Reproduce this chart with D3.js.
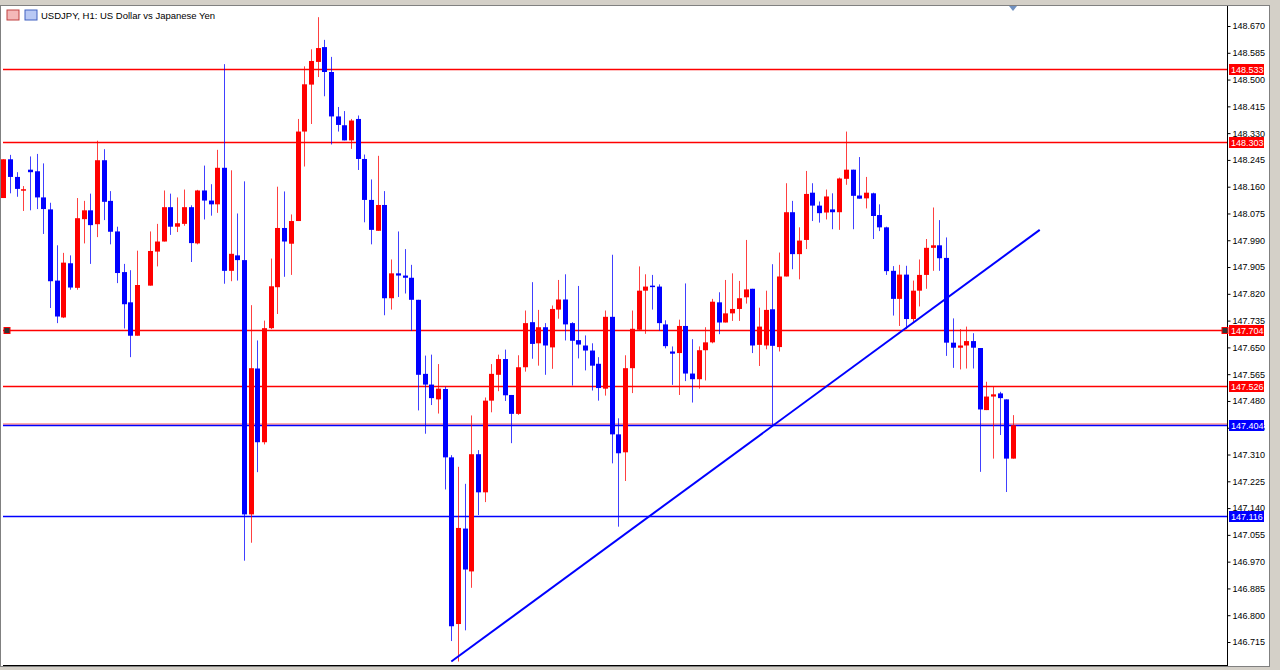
<!DOCTYPE html>
<html><head><meta charset="utf-8">
<script src="https://cdn.jsdelivr.net/npm/d3@7"></script>
<style>body{margin:0;background:#fff;overflow:hidden}svg{display:block}</style>
</head><body><svg id="c" width="1280" height="670"></svg>
<script>
// OHLC per hourly bar (null = empty slot)
const opens = [148.124,148.247,148.191,148.148,148.214,148.209,148.126,148.088,147.862,147.745,147.917,147.839,148.057,148.085,148.041,148.244,148.115,148.018,147.889,147.793,147.687,null,
147.846,147.954,147.986,148.095,148.033,148.042,148.095,147.980,148.148,148.116,148.104,148.220,147.893,147.942,147.927,147.120,147.583,147.349,147.711,147.841,148.029,147.979,148.051,148.335,148.484,148.556,148.603,148.524,148.383,148.355,148.307,148.375,148.248,148.118,148.020,148.102,147.806,147.885,147.878,147.871,147.801,147.566,147.532,147.485,147.518,147.301,146.772,147.075,146.939,147.311,147.190,147.481,147.563,147.613,147.499,147.439,147.587,147.730,147.663,147.714,147.650,147.770,147.802,147.727,147.673,147.656,147.640,147.598,147.519,147.747,147.374,147.317,147.584,147.706,147.830,147.846,147.843,147.723,147.637,147.632,147.718,147.567,147.549,147.641,147.666,147.793,147.729,147.758,147.772,147.809,147.836,147.658,147.656,147.771,147.651,147.875,148.079,147.946,147.991,148.141,148.100,148.078,148.088,148.079,148.185,148.214,148.132,148.123,148.139,148.070,148.031,147.893,147.804,147.881,147.740,147.830,147.880,147.966,147.974,147.934,147.665,147.649,147.656,147.670,147.648,147.451,147.494,147.504,147.485,147.297];
const highs = [148.247,148.261,148.206,148.162,148.256,148.264,148.234,148.109,147.974,147.950,147.942,148.124,148.115,148.138,148.306,148.279,148.146,148.033,147.915,147.895,147.957,null,
148.018,148.042,148.148,148.138,148.126,148.151,148.101,148.150,148.227,148.168,148.277,148.549,148.212,148.075,148.177,147.784,147.672,147.735,147.932,148.160,148.145,148.072,148.375,148.542,148.596,148.698,148.626,148.572,148.413,148.400,148.375,148.386,148.262,148.183,148.258,148.146,147.929,148.018,147.962,147.912,147.801,147.624,147.627,147.597,147.525,147.308,147.271,147.217,147.434,147.324,147.491,147.597,147.627,147.643,147.499,147.625,147.767,147.857,147.769,147.727,147.783,147.864,147.882,147.730,147.845,147.688,147.663,147.619,147.767,147.944,147.425,147.625,147.767,147.907,147.882,147.880,147.850,147.736,147.653,147.738,147.853,147.676,147.653,147.714,147.804,147.825,147.864,147.885,147.861,147.991,147.836,147.776,147.830,147.914,147.951,148.171,148.115,148.031,148.210,148.171,148.113,148.151,148.139,148.189,148.335,148.214,148.254,148.191,148.141,148.104,148.033,147.908,147.912,147.909,147.862,147.929,147.994,148.094,148.054,147.999,147.742,147.708,147.716,147.695,147.648,147.541,147.525,147.509,147.485,147.435];
const lows = [148.124,148.139,148.128,148.083,148.085,148.089,148.010,147.775,147.727,147.743,147.833,147.833,147.980,147.915,148.000,148.054,147.977,147.854,147.710,147.619,147.687,null,
147.846,147.907,147.986,148.007,148.016,148.036,147.921,147.977,148.056,148.068,148.077,147.852,147.860,147.862,146.973,147.030,147.254,147.342,147.708,147.756,147.874,147.880,148.051,148.224,148.359,148.508,148.447,148.294,148.335,148.307,148.280,148.213,148.047,147.977,148.020,147.752,147.770,147.810,147.821,147.702,147.450,147.376,147.467,147.440,147.199,146.718,146.653,146.752,146.887,147.118,147.159,147.444,147.511,147.480,147.346,147.436,147.573,147.614,147.592,147.563,147.582,147.741,147.672,147.529,147.615,147.577,147.513,147.481,147.497,147.282,147.081,147.226,147.505,147.703,147.693,147.770,147.703,147.647,147.531,147.499,147.543,147.475,147.519,147.545,147.663,147.692,147.729,147.734,147.734,147.789,147.632,147.591,147.644,147.401,147.637,147.875,147.898,147.866,147.962,148.051,148.046,148.056,148.025,148.023,148.166,148.025,148.122,148.091,147.994,148.019,147.880,147.751,147.718,147.708,147.728,147.780,147.836,147.893,147.893,147.623,147.585,147.580,147.583,147.583,147.255,147.451,147.297,147.372,147.191,147.297];
const closes = [148.247,148.191,148.153,148.152,148.206,148.126,148.089,147.860,147.748,147.919,147.840,148.060,148.085,148.038,148.244,148.112,148.017,147.886,147.787,147.687,147.848,null,
147.956,147.986,148.095,148.033,148.044,148.095,147.981,148.148,148.116,148.104,148.220,147.893,147.947,147.927,147.120,147.584,147.349,147.711,147.844,148.029,147.986,148.051,148.335,148.485,148.559,148.600,148.524,148.383,148.356,148.307,148.370,148.248,148.118,148.023,148.102,147.806,147.885,147.878,147.871,147.801,147.563,147.532,147.489,147.519,147.301,146.765,147.077,146.945,147.311,147.190,147.481,147.566,147.613,147.498,147.439,147.587,147.727,147.661,147.714,147.656,147.772,147.802,147.723,147.671,147.659,147.640,147.592,147.521,147.747,147.374,147.314,147.584,147.709,147.830,147.843,147.843,147.727,147.654,147.630,147.718,147.567,147.549,147.641,147.666,147.795,147.729,147.758,147.772,147.806,147.834,147.656,147.716,147.769,147.655,147.875,148.079,147.946,147.989,148.137,148.100,148.076,148.129,148.079,148.186,148.214,148.131,148.122,148.141,148.067,148.031,147.892,147.804,147.881,147.740,147.830,147.880,147.966,147.974,147.933,147.665,147.649,147.656,147.670,147.649,147.453,147.494,147.501,147.489,147.297,147.403];
const yTicks = [148.670,148.585,148.500,148.415,148.330,148.245,148.160,148.075,147.990,147.905,147.820,147.735,147.650,147.565,147.480,147.395,147.310,147.225,147.140,147.055,146.970,146.885,146.800,146.715];
const levelPrices = [148.533,148.303,147.704,147.526,147.404,147.116];
const levelColors = ["#ff0000","#ff0000","#ff0000","#ff0000","#0000ff","#0000ff"];
const trendBars = [67,155];
const trendPrices = [146.653,148.023];
const title = "USDJPY, H1:  US Dollar vs Japanese Yen";

const svg = d3.select("#c");
const L=3,R=1227,T=8,B=665;
const nBars = opens.length;
const x = d3.scaleLinear().domain([0,nBars-1]).range([3.3,1013]);
const y = d3.scaleLinear().domain([148.670,146.715]).range([26,642]);

// frame
svg.append("rect").attr("x",0).attr("y",0).attr("width",1280).attr("height",6).attr("fill","#d4d0c8");
svg.append("rect").attr("x",1270).attr("y",0).attr("width",10).attr("height",670).attr("fill","#d4d0c8");
svg.append("rect").attr("x",0).attr("y",666).attr("width",1280).attr("height",4).attr("fill","#d4d0c8");
svg.append("rect").attr("x",0.5).attr("y",5.5).attr("width",1269).attr("height",661).attr("fill","none").attr("stroke","#808080");
svg.append("line").attr("x1",R+0.5).attr("x2",R+0.5).attr("y1",T-2).attr("y2",B+1).attr("stroke","#000");
svg.append("line").attr("x1",L).attr("x2",R).attr("y1",B+0.5).attr("y2",B+0.5).attr("stroke","#000");

// y axis
const ax = svg.append("g").attr("transform",`translate(${R+0.5},0)`)
  .call(d3.axisRight(y).tickValues(yTicks).tickFormat(d3.format(".3f")).tickSize(3).tickPadding(2));
ax.select(".domain").remove();
ax.selectAll("text").attr("font-family","Liberation Sans, Arial").attr("font-size",9).attr("fill","#000");

// levels
levelPrices.forEach((p,i)=>{
  const yy=Math.round(y(p))+0.5;
  if(i===4) svg.append("line").attr("x1",L).attr("x2",R).attr("y1",yy-1.5).attr("y2",yy-1.5).attr("stroke","#ff9090").attr("stroke-width",1.5);
  svg.append("line").attr("x1",L).attr("x2",R).attr("y1",yy).attr("y2",yy).attr("stroke",levelColors[i]).attr("stroke-width",1.6);
  svg.append("rect").attr("x",R+2).attr("y",yy-5.5).attr("width",35).attr("height",11).attr("fill",levelColors[i]);
  svg.append("text").attr("x",R+4).attr("y",yy+3.5).text(p.toFixed(3)).attr("fill","#fff")
    .attr("font-family","Liberation Sans, Arial").attr("font-size",9);
});
const yM=Math.round(y(147.704))+0.5;
[[4,yM-3],[1222,yM-3]].forEach(d=>svg.append("rect").attr("x",d[0]).attr("y",d[1]).attr("width",6).attr("height",6).attr("fill","#333").attr("stroke","#ff0000"));

// candles
const idx=d3.range(nBars).filter(i=>opens[i]!==null);
const g=svg.append("g");
idx.forEach(i=>{
  const up=closes[i]>=opens[i], col=up?"#ff0000":"#0000ff";
  const cx=Math.round(x(i))+0.5;
  g.append("line").attr("x1",cx).attr("x2",cx).attr("y1",y(highs[i])).attr("y2",y(lows[i])).attr("stroke",col).attr("stroke-width",1).attr("stroke-opacity",0.75);
  const t=y(Math.max(opens[i],closes[i])), b=y(Math.min(opens[i],closes[i]));
  g.append("rect").attr("x",cx-2.5).attr("y",t).attr("width",5).attr("height",Math.max(1.5,b-t)).attr("fill",col);
});

// trendline
svg.append("line").attr("x1",x(trendBars[0])).attr("y1",y(trendPrices[0])).attr("x2",x(trendBars[1])).attr("y2",y(trendPrices[1]))
  .attr("stroke","#0000ff").attr("stroke-width",2);

// shift marker
svg.append("path").attr("d","M1009,6 L1017,6 L1013,11 Z").attr("fill","#7090c0");

// title
svg.append("rect").attr("x",7).attr("y",10).attr("width",12).attr("height",10).attr("fill","#f4b8b8").attr("stroke","#c04040");
svg.append("rect").attr("x",25).attr("y",10).attr("width",12).attr("height",10).attr("fill","#b8c8f4").attr("stroke","#4060c0");
svg.append("text").attr("x",41).attr("y",19).text(title).attr("font-family","Liberation Sans, Arial").attr("font-size",9.5).attr("fill","#000");
</script></body></html>
